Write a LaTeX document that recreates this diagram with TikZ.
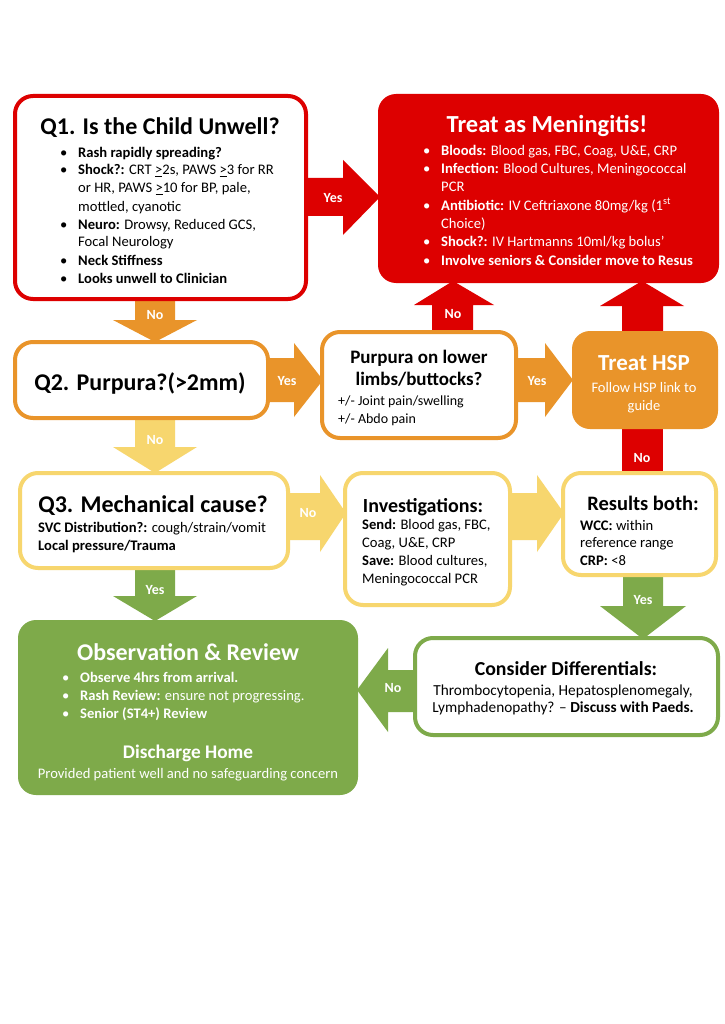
\documentclass[tikz,border=0pt]{standalone}
\usepackage{fontspec}
\setmainfont{Carlito}
\definecolor{redc}{RGB}{221,0,0}
\definecolor{orangec}{RGB}{233,148,42}
\definecolor{yellowc}{RGB}{247,214,110}
\definecolor{greenc}{RGB}{126,170,74}
\newcommand\bl{\makebox[18pt][l]{\textbullet}}
\newcommand\ind{\hspace*{18pt}}
\newcommand\fs[2]{\fontsize{#1}{#2}\selectfont}
\begin{document}
\begin{tikzpicture}[x=1pt,y=-1pt,
  box/.style={rounded corners=18pt,line width=4pt,fill=white,inner sep=0pt},
  fbox/.style={rounded corners=18pt,inner sep=0pt},
  txt/.style={inner sep=0pt,align=left,anchor=base west},
  ctxt/.style={inner sep=0pt,align=center,anchor=base},
  lab/.style={inner sep=0pt,text=white,font=\fs{14}{16}\bfseries}]
\useasboundingbox (0,0) rectangle (724,1024);
\fill[white] (0,0) rectangle (724,1024);

% ---- block arrows ----
% Q1 -> Meningitis (Yes)
\fill[redc] (300,178) -- (343,178) -- (343,160) -- (380,197) -- (343,235) -- (343,216) -- (300,216) -- cycle;
% Q1 -> Q2 (No)
\fill[orangec] (135,295) -- (175,295) -- (175,320) -- (197,320) -- (155,342) -- (113,320) -- (135,320) -- cycle;
% Q2 -> Q3 (No)
\fill[yellowc] (135,416) -- (175,416) -- (175,447) -- (197,447) -- (155,473) -- (113,447) -- (135,447) -- cycle;
% Q2 -> Purpura (Yes)
\fill[orangec] (264,358) -- (294,358) -- (294,343) -- (323,380) -- (294,417) -- (294,402) -- (264,402) -- cycle;
% Purpura -> HSP (Yes)
\fill[orangec] (514,358) -- (545,358) -- (545,343) -- (573,380) -- (545,417) -- (545,402) -- (514,402) -- cycle;
% Purpura -> Meningitis (No)
\fill[redc] (432,334) -- (473,334) -- (473,305) -- (494,305) -- (453,281) -- (414,305) -- (432,305) -- cycle;
% HSP -> Meningitis
\fill[redc] (622,333) -- (663,333) -- (663,306) -- (684,306) -- (642,281) -- (600,306) -- (622,306) -- cycle;
% Results -> HSP (No)
\fill[redc] (622,425) rectangle (663,476);
% Q3 -> Investigations (No)
\fill[yellowc] (285,493) -- (320,493) -- (320,475) -- (346,513) -- (320,552) -- (320,540) -- (285,540) -- cycle;
% Investigations -> Results
\fill[yellowc] (507,493) -- (537,493) -- (537,475) -- (564,513) -- (537,552) -- (537,540) -- (507,540) -- cycle;
% Q3 -> Observation (Yes)
\fill[greenc] (135,566) -- (175,566) -- (175,596) -- (197,596) -- (155,621) -- (113,596) -- (135,596) -- cycle;
% Results -> Consider (Yes)
\fill[greenc] (623,573) -- (663,573) -- (663,606) -- (686,606) -- (643,639) -- (600,606) -- (623,606) -- cycle;
% Consider -> Observation (No)
\fill[greenc] (418,670) -- (388,670) -- (388,648) -- (357,690) -- (388,732) -- (388,712) -- (418,712) -- cycle;

% ---- boxes ----
\node[box,draw=redc,minimum width=291pt,minimum height=203pt] (q1) at (160.5,197.5) {};
\node[fbox,fill=redc,minimum width=341pt,minimum height=189pt] (men) at (548.5,188.5) {};
\node[box,draw=orangec,minimum width=253pt,minimum height=76pt] (q2) at (141.5,380) {};
\node[box,draw=orangec,minimum width=194pt,minimum height=106pt] (pur) at (419,385) {};
\node[fbox,fill=orangec,minimum width=146pt,minimum height=98pt] (hsp) at (645,380) {};
\node[box,draw=yellowc,minimum width=268pt,minimum height=95pt] (q3) at (154,520.5) {};
\node[box,draw=yellowc,minimum width=165pt,minimum height=132pt] (inv) at (427.5,539) {};
\node[box,draw=yellowc,minimum width=153pt,minimum height=102pt] (res) at (639.5,524) {};
\node[box,draw=greenc,minimum width=303pt,minimum height=97pt] (con) at (566.5,686.5) {};
\node[fbox,fill=greenc,minimum width=340pt,minimum height=175pt] (obs) at (188,707.5) {};

% ---- arrow labels ----
\node[lab] (l1) at (333,198) {Yes};
\node[lab] (l2) at (155,315) {No};
\node[lab] (l3) at (155,440) {No};
\node[lab] (l4) at (287,381) {Yes};
\node[lab] (l5) at (537,381) {Yes};
\node[lab] (l6) at (453,314) {No};
\node[lab] (l7) at (642,458) {No};
\node[lab] (l8) at (308,513) {No};
\node[lab] (l9) at (155,590) {Yes};
\node[lab] (l10) at (643,600) {Yes};
\node[lab] (l11) at (393,688) {No};

% ---- texts (base = last line's baseline) ----
\node[ctxt,font=\fs{24}{30}\bfseries] (q1title) at (160,135) {Q1. Is the Child Unwell?};
\node[txt,font=\fs{14.6}{18}] (q1list) at (60,283) {%
\bl\textbf{Rash rapidly spreading?}\\
\bl\textbf{Shock?:} CRT \underline{>}2s, PAWS \underline{>}3 for RR\\
\ind or HR, PAWS \underline{>}10 for BP, pale,\\
\ind mottled, cyanotic\\
\bl\textbf{Neuro:} Drowsy, Reduced GCS,\\
\ind Focal Neurology\\
\bl\textbf{Neck Stiffness}\\
\bl\textbf{Looks unwell to Clinician}};

\node[ctxt,font=\fs{24.5}{28}\bfseries,text=white] (mentitle) at (547,133) {Treat as Meningitis!};
\node[txt,font=\fs{14.6}{18.3},text=white] (menlist) at (423,265) {%
\bl\textbf{Bloods:} Blood gas, FBC, Coag, U\&E, CRP\\
\bl\textbf{Infection:} Blood Cultures, Meningococcal\\
\ind PCR\\
\bl\textbf{Antibiotic:} IV Ceftriaxone 80mg/kg (1\textsuperscript{st}\\
\ind Choice)\\
\bl\textbf{Shock?:} IV Hartmanns 10ml/kg bolus’\\
\bl\textbf{Involve seniors \& Consider move to Resus}};

\node[ctxt,font=\fs{24}{28}\bfseries] (q2title) at (140,390) {Q2. Purpura?(>2mm)};

\node[ctxt,font=\fs{19}{22}\bfseries] (purtitle) at (419,385) {Purpura on lower\\limbs/buttocks?};
\node[txt,font=\fs{14}{18}] (purlist) at (338,423) {+/- Joint pain/swelling\\+/- Abdo pain};

\node[ctxt,font=\fs{23}{26}\bfseries,text=white] (hsptitle) at (644,370) {Treat HSP};
\node[ctxt,font=\fs{14.5}{18},text=white] (hsptext) at (644,410) {Follow HSP link to\\guide};

\node[ctxt,font=\fs{24}{30}\bfseries] (q3title) at (153,512) {Q3. Mechanical cause?};
\node[txt,font=\fs{14.6}{18}] (q3text) at (38,550) {\textbf{SVC Distribution?:} cough/strain/vomit\\\textbf{Local pressure/Trauma}};

\node[ctxt,font=\fs{20}{22}\bfseries] (invtitle) at (423,512) {Investigations:};
\node[txt,font=\fs{14.6}{17.7}] (invtext) at (362,583) {\textbf{Send:} Blood gas, FBC,\\Coag, U\&E, CRP\\\textbf{Save:} Blood cultures,\\Meningococcal PCR};

\node[ctxt,font=\fs{20.5}{22}\bfseries] (restitle) at (643,510) {Results both:};
\node[txt,font=\fs{14.6}{17.7}] (restext) at (580,565.4) {\textbf{WCC:} within\\reference range\\\textbf{CRP:} <8};

\node[ctxt,font=\fs{24}{26}\bfseries,text=white] (obstitle) at (188,660) {Observation \& Review};
\node[txt,font=\fs{14.6}{18},text=white] (obslist) at (62,718) {%
\bl\textbf{Observe 4hrs from arrival.}\\
\bl\textbf{Rash Review:} ensure not progressing.\\
\bl\textbf{Senior (ST4+) Review}};
\node[ctxt,font=\fs{19.3}{22}\bfseries,text=white] (dhtitle) at (188,758) {Discharge Home};
\node[ctxt,font=\fs{14.6}{18},text=white] (dhtext) at (188,778) {Provided patient well and no safeguarding concern};

\node[ctxt,font=\fs{19.8}{22}\bfseries] (contitle) at (566,675) {Consider Differentials:};
\node[ctxt,font=\fs{15.3}{17}] (context) at (563,712) {Thrombocytopenia, Hepatosplenomegaly,\\Lymphadenopathy? -- \textbf{Discuss with Paeds.}};
\end{tikzpicture}
\end{document}
